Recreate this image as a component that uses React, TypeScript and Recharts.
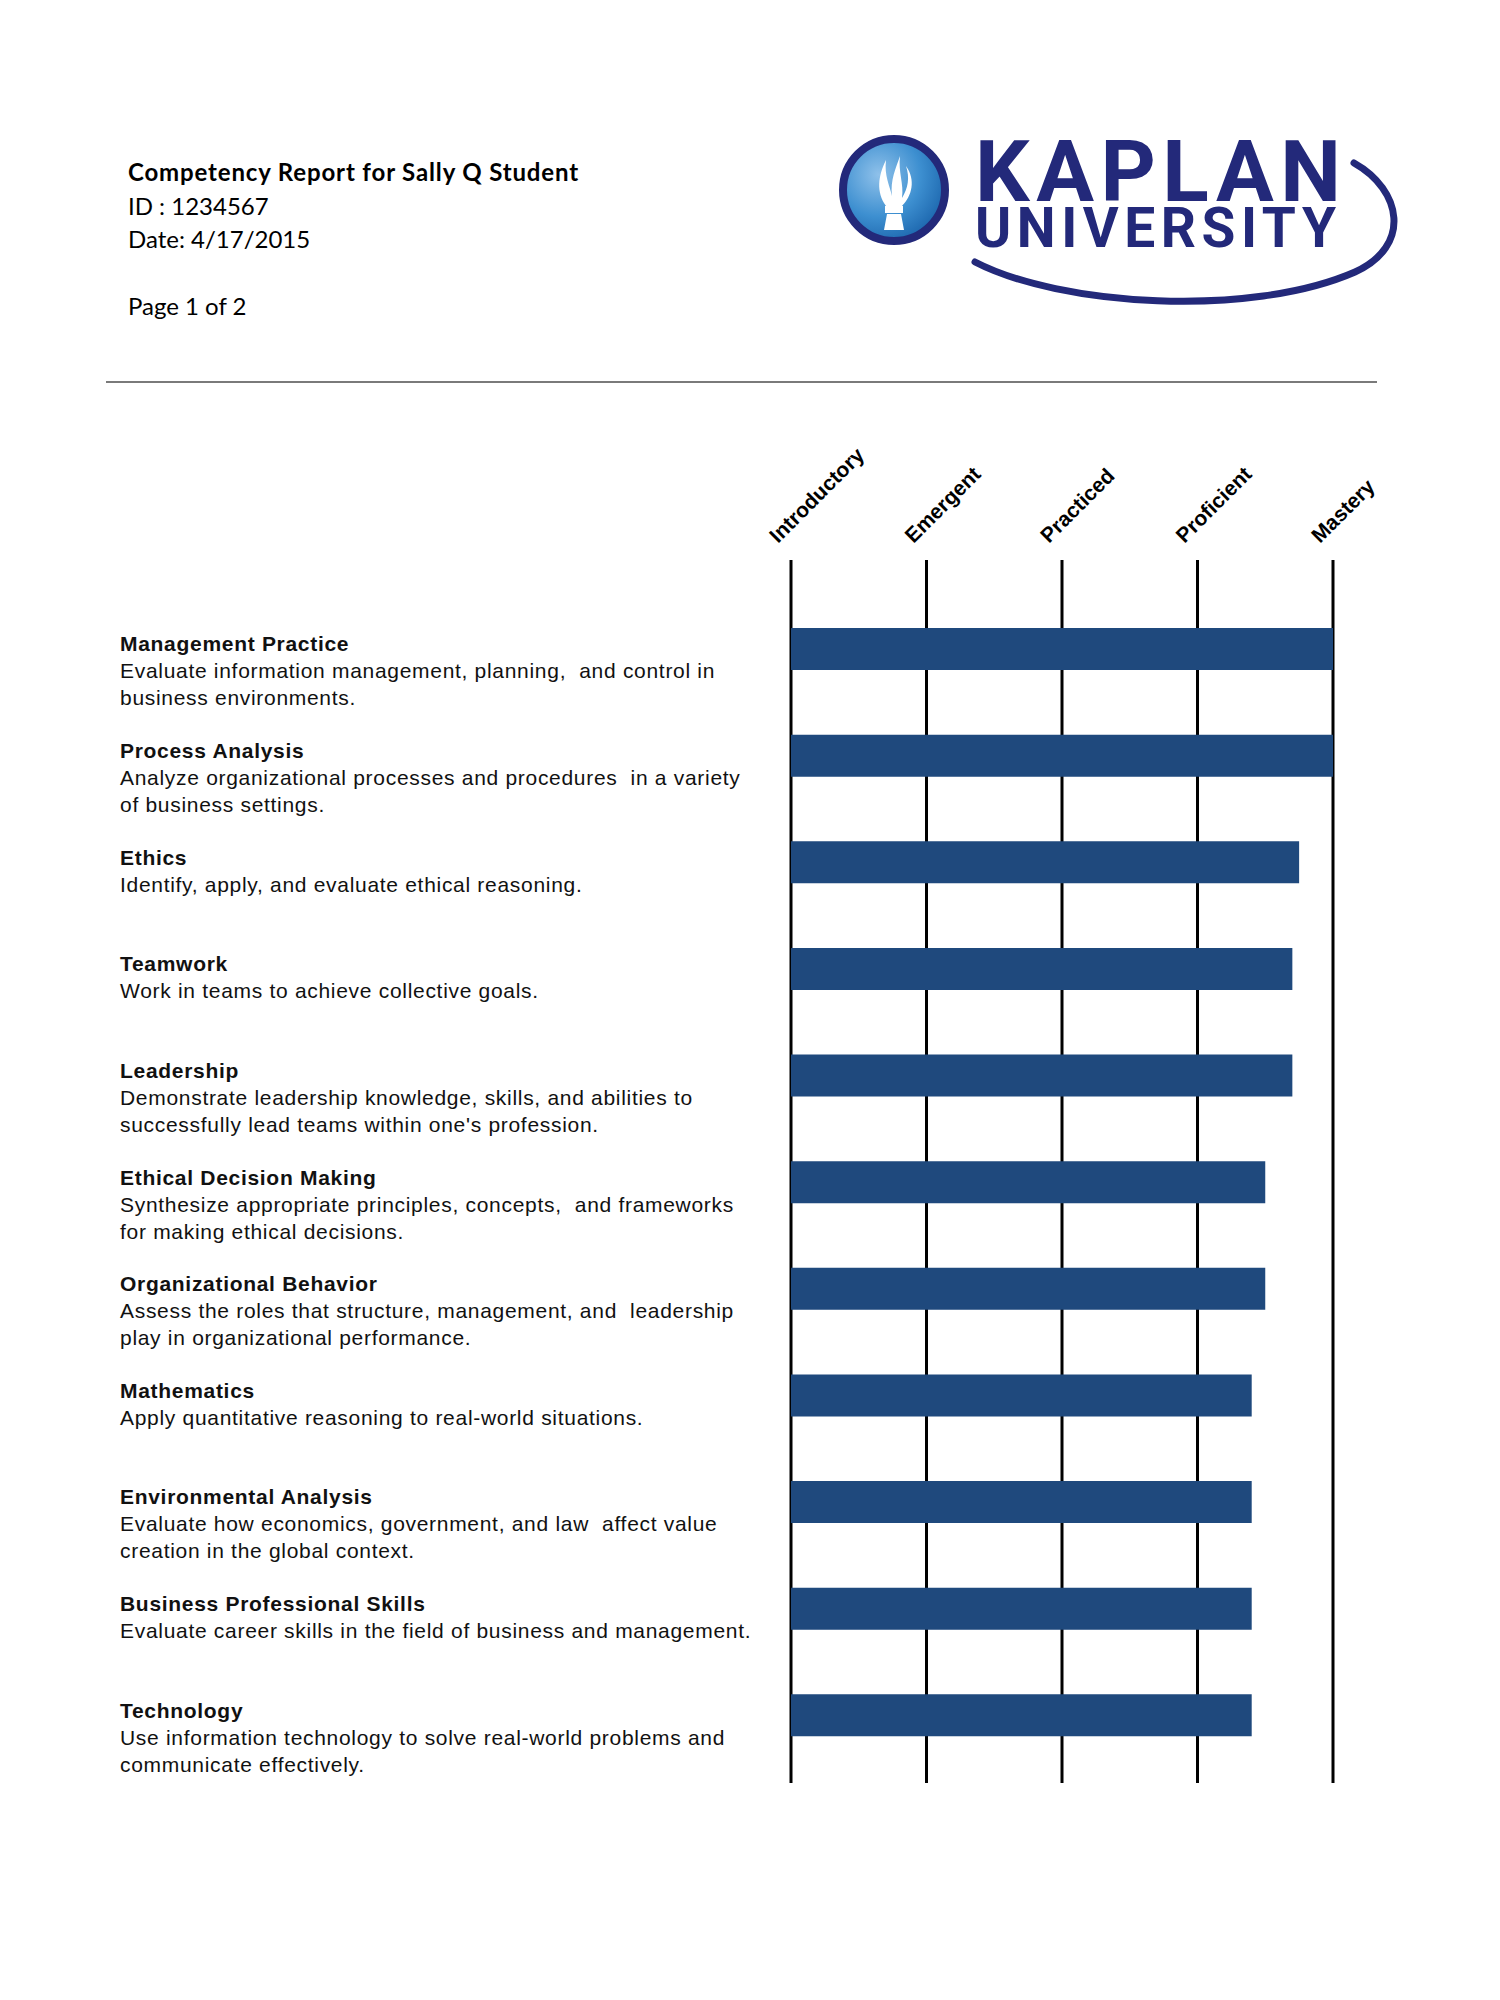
import React from 'react'
import { BarChart, Bar, XAxis, YAxis, CartesianGrid } from 'recharts'

// Competencies, in report order (top to bottom)
const competencies = [
  'Management Practice',
  'Process Analysis',
  'Ethics',
  'Teamwork',
  'Leadership',
  'Ethical Decision Making',
  'Organizational Behavior',
  'Mathematics',
  'Environmental Analysis',
  'Business Professional Skills',
  'Technology'
]

const descriptions = [
  ['Evaluate information management, planning,  and control in', 'business environments.'],
  ['Analyze organizational processes and procedures  in a variety', 'of business settings.'],
  ['Identify, apply, and evaluate ethical reasoning.'],
  ['Work in teams to achieve collective goals.'],
  ['Demonstrate leadership knowledge, skills, and abilities to', "successfully lead teams within one's profession."],
  ['Synthesize appropriate principles, concepts,  and frameworks', 'for making ethical decisions.'],
  ['Assess the roles that structure, management, and  leadership', 'play in organizational performance.'],
  ['Apply quantitative reasoning to real-world situations.'],
  ['Evaluate how economics, government, and law  affect value', 'creation in the global context.'],
  ['Evaluate career skills in the field of business and management.'],
  ['Use information technology to solve real-world problems and', 'communicate effectively.']
]

// 0 = Introductory ... 4 = Mastery
const scores = [4, 4, 3.75, 3.7, 3.7, 3.5, 3.5, 3.4, 3.4, 3.4, 3.4]

const levels = ['Introductory', 'Emergent', 'Practiced', 'Proficient', 'Mastery']
const levelTicks = [0, 1, 2, 3, 4]

const data = competencies.map((name, i) => ({ name, score: scores[i] }))

const BAR_COLOR = '#1F497D'
const NAVY = '#23297A'
const ARIAL = '"Liberation Sans", Arial, sans-serif'

// rotated level labels along the top
const LevelTick = ({ x, y, payload }: any) => {
  const tx = x - 13
  const ty = y - 16
  return (
    <text
      x={tx}
      y={ty}
      transform={`rotate(-45, ${tx}, ${ty})`}
      textAnchor="start"
      fontFamily={ARIAL}
      fontWeight="bold"
      fontSize={21}
      fill="#000"
    >
      {levels[payload.value]}
    </text>
  )
}

// competency name + description column on the left
const CompetencyTick = ({ y, payload }: any) => {
  const i = competencies.indexOf(payload.value)
  const lines = descriptions[i] || []
  const txt = { whiteSpace: 'pre', letterSpacing: '0.7px' } as React.CSSProperties
  return (
    <g fontFamily={ARIAL} fontSize={21} fill="#111">
      <text x={120} y={y + 2} fontWeight="bold" textAnchor="start" style={txt}>
        {payload.value}
      </text>
      {lines.map((line, k) => (
        <text key={k} x={120} y={y + 2 + 27 * (k + 1)} textAnchor="start" style={txt}>
          {line}
        </text>
      ))}
    </g>
  )
}

const KaplanLogo = () => (
  <svg width={1500} height={330} style={{ position: 'absolute', left: 0, top: 0 }}>
    <defs>
      <radialGradient id="seal" cx="35%" cy="35%" r="75%">
        <stop offset="0%" stopColor="#8fc1ea" />
        <stop offset="55%" stopColor="#3d8fd0" />
        <stop offset="100%" stopColor="#1760a8" />
      </radialGradient>
    </defs>
    <circle cx={894} cy={190} r={51} fill="url(#seal)" stroke={NAVY} strokeWidth={8} />
    {/* torch */}
    <path
      d="M886 206 C876 192 878 176 886 160 C884 176 890 186 892 196 C890 180 896 168 900 156 C898 172 904 184 902 198 C908 188 910 178 906 166 C916 180 912 196 902 206 Z"
      fill="#fff"
    />
    <rect x={885} y={206} width={18} height={7} fill="#fff" />
    <path d="M887 214 L901 214 L904 230 L884 230 Z" fill="#fff" />
    <text
      x={975}
      y={201}
      textLength={366}
      lengthAdjust="spacing"
      fontFamily="Roboto, sans-serif"
      fontWeight="bold"
      fontSize={86}
      fill={NAVY}
    >
      KAPLAN
    </text>
    <text
      x={975}
      y={247}
      textLength={361}
      lengthAdjust="spacing"
      fontFamily="Roboto, sans-serif"
      fontWeight="bold"
      fontSize={55}
      fill={NAVY}
    >
      UNIVERSITY
    </text>
    <path
      d="M975 262 C1060 306 1250 318 1355 272 C1412 246 1402 190 1354 163"
      fill="none"
      stroke={NAVY}
      strokeWidth={7}
      strokeLinecap="round"
    />
  </svg>
)

export default function App() {
  return (
    <div
      style={{
        position: 'absolute',
        left: 0,
        top: 0,
        width: 1500,
        height: 2000,
        background: '#fff',
        overflow: 'hidden'
      }}
    >
      {/* header */}
      <div
        style={{
          position: 'absolute',
          left: 128,
          top: 155,
          fontFamily: 'Lato, "Open Sans", sans-serif',
          fontSize: 24,
          lineHeight: '33.5px',
          color: '#000'
        }}
      >
        <div style={{ fontWeight: 'bold', letterSpacing: '0.85px' }}>Competency Report for Sally Q Student</div>
        <div>ID : 1234567</div>
        <div>Date: 4/17/2015</div>
        <div style={{ marginTop: 33.5 }}>Page 1 of 2</div>
      </div>
      <KaplanLogo />
      <div
        style={{
          position: 'absolute',
          left: 106,
          top: 381,
          width: 1271,
          height: 2,
          background: '#7a7a7a'
        }}
      />

      <div style={{ position: 'absolute', left: 0, top: 0 }}>
        <BarChart
          width={1500}
          height={1800}
          data={data}
          layout="vertical"
          margin={{ top: 500, right: 167, bottom: 17, left: 0 }}
        >
          <CartesianGrid horizontal={false} vertical stroke="#000" strokeWidth={3} />
          <XAxis
            type="number"
            orientation="top"
            domain={[0, 4]}
            ticks={levelTicks}
            interval={0}
            height={60}
            axisLine={false}
            tickLine={false}
            tickSize={0}
            tickMargin={0}
            tick={<LevelTick />}
          />
          <YAxis
            type="category"
            dataKey="name"
            width={791}
            interval={0}
            axisLine={false}
            tickLine={false}
            padding={{ top: 36, bottom: 14 }}
            tick={<CompetencyTick />}
          />
          <Bar dataKey="score" fill={BAR_COLOR} barSize={42} isAnimationActive={false} />
        </BarChart>
      </div>
    </div>
  )
}
